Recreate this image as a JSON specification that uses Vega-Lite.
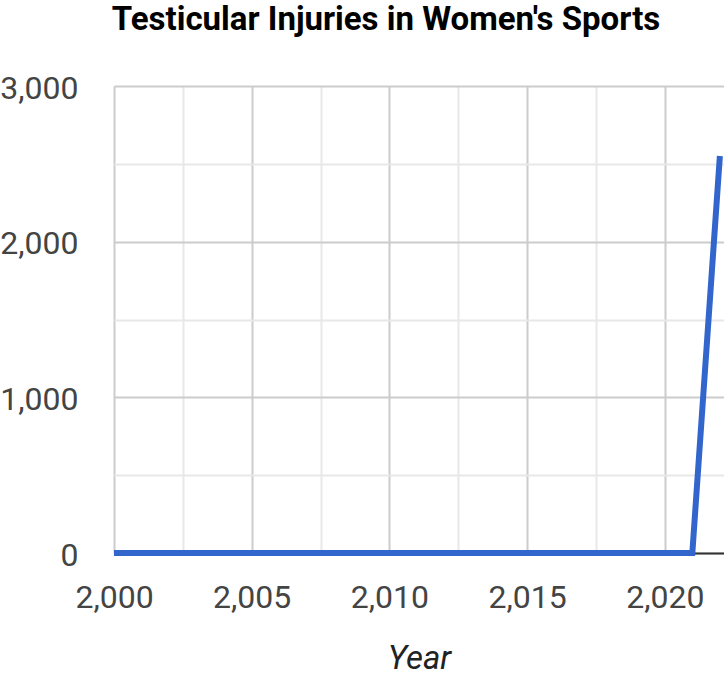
{
  "$schema": "https://vega.github.io/schema/vega-lite/v6.json",
  "width": 610,
  "height": 467,
  "autosize": {"type": "none"},
  "padding": {"left": 114, "top": 86, "right": 0, "bottom": 136},
  "background": "white",
  "title": {
    "text": "Testicular Injuries in Women's Sports",
    "font": "Roboto",
    "fontSize": 33,
    "fontWeight": "bold",
    "color": "#000000",
    "anchor": "middle",
    "dx": -33,
    "offset": 35
  },
  "config": {
    "view": {"stroke": null},
    "font": "Roboto"
  },
  "data": {
    "values": [
      {"year": 2000, "injuries": 0},
      {"year": 2001, "injuries": 0},
      {"year": 2002, "injuries": 0},
      {"year": 2003, "injuries": 0},
      {"year": 2004, "injuries": 0},
      {"year": 2005, "injuries": 0},
      {"year": 2006, "injuries": 0},
      {"year": 2007, "injuries": 0},
      {"year": 2008, "injuries": 0},
      {"year": 2009, "injuries": 0},
      {"year": 2010, "injuries": 0},
      {"year": 2011, "injuries": 0},
      {"year": 2012, "injuries": 0},
      {"year": 2013, "injuries": 0},
      {"year": 2014, "injuries": 0},
      {"year": 2015, "injuries": 0},
      {"year": 2016, "injuries": 0},
      {"year": 2017, "injuries": 0},
      {"year": 2018, "injuries": 0},
      {"year": 2019, "injuries": 0},
      {"year": 2020, "injuries": 0},
      {"year": 2021, "injuries": 0},
      {"year": 2022, "injuries": 2550}
    ]
  },
  "mark": {"type": "line", "color": "#3366cc", "strokeWidth": 6},
  "encoding": {
    "x": {
      "field": "year",
      "type": "quantitative",
      "scale": {"domain": [2000, 2022.15], "nice": false, "zero": false},
      "axis": {
        "title": "Year",
        "titleFont": "Roboto",
        "titleFontSize": 33,
        "titleFontStyle": "italic",
        "titleFontWeight": "normal",
        "titleColor": "#222222",
        "titlePadding": 29,
        "values": [2000, 2002.5, 2005, 2007.5, 2010, 2012.5, 2015, 2017.5, 2020],
        "labelExpr": "datum.value % 5 === 0 ? format(datum.value, ',d') : ''",
        "labelFont": "Roboto",
        "labelFontSize": 32,
        "labelColor": "#444444",
        "labelPadding": 29,
        "labelOverlap": false,
        "labelFlush": false,
        "ticks": false,
        "domain": true,
        "domainColor": "#333333",
        "domainWidth": 2,
        "grid": true,
        "gridWidth": 2,
        "gridColor": {"condition": {"test": "datum.value % 5 === 0", "value": "#cccccc"}, "value": "#e8e8e8"}
      }
    },
    "y": {
      "field": "injuries",
      "type": "quantitative",
      "scale": {"domain": [0, 3000], "nice": false},
      "axis": {
        "title": null,
        "values": [0, 500, 1000, 1500, 2000, 2500, 3000],
        "labelExpr": "datum.value % 1000 === 0 ? format(datum.value, ',d') : ''",
        "labelFont": "Roboto",
        "labelFontSize": 32,
        "labelColor": "#444444",
        "labelPadding": 36,
        "labelOffset": 2,
        "labelOverlap": false,
        "labelFlush": false,
        "ticks": false,
        "domain": false,
        "grid": true,
        "gridWidth": 2,
        "gridColor": {"condition": {"test": "datum.value % 1000 === 0", "value": "#cccccc"}, "value": "#e8e8e8"}
      }
    }
  }
}
